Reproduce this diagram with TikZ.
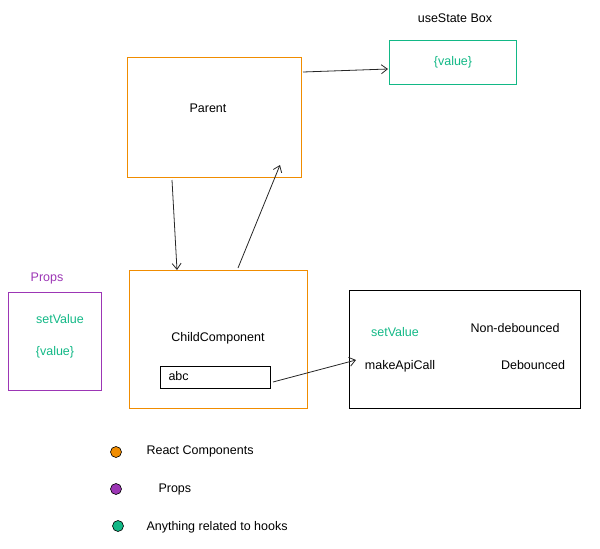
\documentclass[tikz,border=0pt]{standalone}
\usepackage{fontspec}
\setmainfont{Liberation Sans}
\usetikzlibrary{arrows.meta}
\definecolor{orgc}{HTML}{F08C00}
\definecolor{purc}{HTML}{9C36B5}
\definecolor{grnc}{HTML}{12B886}
\begin{document}
\begin{tikzpicture}[x=1pt,y=-1pt,
  every node/.style={font=\fontsize{12.5}{14}\selectfont},
  ob/.style={draw=orgc,line width=0.9pt},
  arr/.style={-{Straight Barb[length=6pt,width=9pt]},line width=0.8pt,black!85},
  dot/.style={circle,draw=black,line width=0.6pt,minimum size=11pt,inner sep=0pt}]
\useasboundingbox (0,0) rectangle (600,549);
\node[ob,minimum width=174pt,minimum height=120pt] (parent) at (214,117) {};
\node (parentt) at (208,108) {Parent};
\node (uslabel) at (455,18) {useState Box};
\node[draw=grnc,line width=0.9pt,minimum width=127pt,minimum height=44pt,text=grnc] (us) at (453,62) {\{value\}};
\node[ob,minimum width=178pt,minimum height=138pt] (child) at (218,339) {};
\node (childt) at (218,338) {ChildComponent};
\node[draw,line width=0.8pt,minimum width=110pt,minimum height=22pt,anchor=west] (inp) at (160,377) {};
\node[anchor=west] (abc) at (165,376) {abc};
\node[draw,line width=0.9pt,minimum width=231pt,minimum height=118pt] (fn) at (464.5,349) {};
\node[text=grnc] (sv2) at (395,332) {setValue};
\node (nd) at (515,328) {Non-debounced};
\node (mac) at (400,366) {makeApiCall};
\node (db) at (533,365) {Debounced};
\node[text=purc] (propsl) at (47,278) {Props};
\node[draw=purc,line width=0.9pt,minimum width=93pt,minimum height=98pt] (props) at (54.5,341) {};
\node[text=grnc] (sv1) at (60,319) {setValue};
\node[text=grnc] (val1) at (55,352) {\{value\}};
\coordinate (p1) at (303,72); \coordinate (p2) at (388,69);
\draw[arr] (p1) -- (p2);
\coordinate (d1) at (172,180); \coordinate (d2) at (177,270);
\draw[arr] (d1) -- (d2);
\coordinate (u1) at (238,268); \coordinate (u2) at (280,165);
\draw[arr] (u1) -- (u2);
\coordinate (a1) at (273,382); \coordinate (a2) at (356,360);
\draw[arr] (a1) -- (a2);
\node[dot,fill=orgc] (l1) at (116,452) {};
\node[anchor=west] (t1) at (143,451) {React Components};
\node[dot,fill=purc] (l2) at (116,489) {};
\node[anchor=west] (t2) at (155,489) {Props};
\node[dot,fill=grnc] (l3) at (118,526) {};
\node[anchor=west] (t3) at (143,527) {Anything related to hooks};
\end{tikzpicture}
\end{document}
